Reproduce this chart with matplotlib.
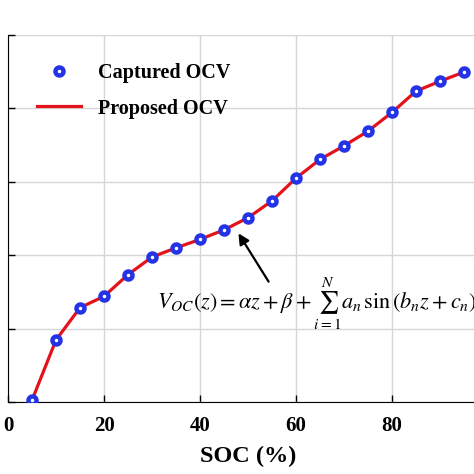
import matplotlib.pyplot as plt
import numpy as np

plt.rcParams['font.family'] = ['Liberation Serif', 'DejaVu Serif']
plt.rcParams['mathtext.fontset'] = 'stix'

# SOC (%) and captured OCV (V)
soc = [5, 10, 15, 20, 25, 30, 35, 40, 45, 50, 55, 60, 65, 70, 75, 80, 85, 90, 95]
ocv = [3.205, 3.369, 3.457, 3.488, 3.547, 3.595, 3.620, 3.643, 3.669, 3.702,
       3.748, 3.810, 3.861, 3.898, 3.938, 3.989, 4.047, 4.074, 4.099]

xticks = [0, 20, 40, 60, 80, 100]
yticks = [3.2, 3.4, 3.6, 3.8, 4.0, 4.2]

fig = plt.figure(figsize=(4.74, 4.74), dpi=100)
W = 474.0
ax = fig.add_axes([8 / W, 72 / W, 480 / W, 367 / W])

ax.plot(soc, ocv, 'o', color='#2433e6', markerfacecolor='white',
        markeredgewidth=3.2, markersize=5.8, label='Captured OCV', zorder=3)
ax.plot(soc, ocv, '-', color='#e3121b', linewidth=2.3, label='Proposed OCV', zorder=2)

ax.set_xlim(0, 100)
ax.set_ylim(3.2, 4.2)
ax.set_xticks(xticks)
ax.set_yticks(yticks)
ax.set_xticklabels([str(t) for t in xticks], fontsize=15, fontweight='bold')
ax.set_yticklabels([])  # labels lie outside the cropped picture
ax.tick_params(direction='in', length=5, width=1)
ax.tick_params(axis='x', pad=10)
ax.grid(True, color='#d6d6d6', linewidth=1)
ax.set_axisbelow(True)
for s in ['top', 'right']:
    ax.spines[s].set_visible(False)
ax.set_xlabel('SOC (%)', fontsize=17.5, fontweight='bold', labelpad=7)

leg = ax.legend(loc='upper left', bbox_to_anchor=(0.0605, 0.9225), frameon=False,
                prop={'size': 14.5, 'weight': 'bold'}, handlelength=2.2,
                handletextpad=0.85, labelspacing=0.75, borderpad=0, borderaxespad=0)

ax.text(31.0, 3.4534,
        r'$V_{OC}\left(z\right)=\alpha z+\beta+\sum_{i=1}^{N}a_n\,\sin\left(b_n z+c_n\right)$',
        fontsize=16, va='baseline', ha='left')
ax.annotate('', xy=(47.7, 3.666), xytext=(54.6, 3.5215),
            arrowprops=dict(arrowstyle='-|>', color='black', lw=1.6,
                            mutation_scale=16))

fig.savefig('out.png', dpi=100)
